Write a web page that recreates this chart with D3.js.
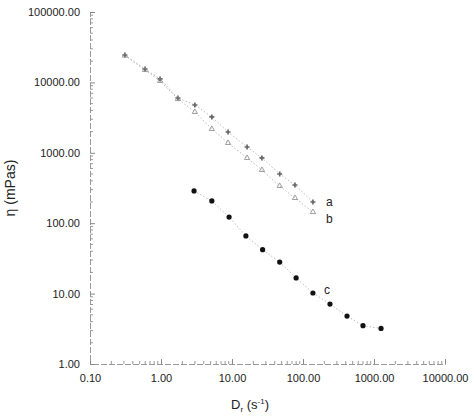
<!DOCTYPE html><html><head><meta charset="utf-8"><script src="https://cdn.jsdelivr.net/npm/d3@7"></script>
<style>body{margin:0;background:#fff}text{font-family:"Liberation Sans",Arial,sans-serif;fill:#222}</style></head><body><svg id="c" width="474" height="416"></svg><script>
const shearRate=[0.31,0.595,0.97,1.73,3.0,5.2,8.8,16.3,26.4,47,77,138];
const etaA=[24500,15500,11200,6000,4780,3230,1975,1210,845,500,349,200];
const etaB=[24000,15000,10500,5800,3800,2180,1380,845,570,338,228,144];
const shearRateC=[2.92,5.2,9.1,15.7,27,47,80,138,240,417,700,1256];
const etaC=[287,207,122,66,42,28,16.7,10.2,7.1,4.8,3.5,3.2];
const xTicks=[0.1,1,10,100,1000,10000];
const yTicks=[1,10,100,1000,10000,100000];
const svg=d3.select("#c");
const x=d3.scaleLog().domain([0.1,10000]).range([90,445]);
const y=d3.scaleLog().domain([1,100000]).range([364,12]);
const ax=svg.append("g").attr("transform","translate(0,364)").call(d3.axisBottom(x).tickValues(xTicks).tickFormat(d3.format(".2f")).tickSize(-5).tickPadding(10));
const ay=svg.append("g").attr("transform","translate(90,0)").call(d3.axisLeft(y).tickValues(yTicks).tickFormat(d3.format(".2f")).tickSize(-5).tickPadding(10));
[ax,ay].forEach(g=>{g.select(".domain").attr("stroke","#999").attr("stroke-dasharray","6,2");g.selectAll("line").attr("stroke","#888");g.selectAll("text").attr("font-size",11).attr("font-family","Liberation Sans").attr("fill","#222");});
// minor ticks
const minors=[];for(let e=-1;e<4;e++)for(let k=2;k<10;k++)minors.push(k*10**e);
ax.selectAll(".mn").data(minors).join("line").attr("x1",d=>x(d)).attr("x2",d=>x(d)).attr("y1",0).attr("y2",-3).attr("stroke","#999");
const yMin=[];for(let e=0;e<5;e++)for(let k=2;k<10;k++)yMin.push(k*10**e);
ay.selectAll(".mn").data(yMin).join("line").attr("y1",d=>y(d)).attr("y2",d=>y(d)).attr("x1",0).attr("x2",3).attr("stroke","#999");
const line=d3.line().x(d=>x(d[0])).y(d=>y(d[1]));
const A=shearRate.map((v,i)=>[v,etaA[i]]),B=shearRate.map((v,i)=>[v,etaB[i]]),C=shearRateC.map((v,i)=>[v,etaC[i]]);
[A,B,C].forEach(s=>svg.append("path").attr("d",line(s)).attr("fill","none").attr("stroke","#aaa").attr("stroke-width",0.8).attr("stroke-dasharray","1.5,2"));
svg.selectAll(".a").data(A).join("path").attr("d",d3.symbol(d3.symbolCross,14)).attr("transform",d=>`translate(${x(d[0])},${y(d[1])})`).attr("fill","#666");
svg.selectAll(".b").data(B).join("path").attr("d",d3.symbol(d3.symbolTriangle,12)).attr("transform",d=>`translate(${x(d[0])},${y(d[1])})`).attr("fill","none").attr("stroke","#888").attr("stroke-width",0.8);
svg.selectAll(".cc").data(C).join("circle").attr("cx",d=>x(d[0])).attr("cy",d=>y(d[1])).attr("r",2.6).attr("fill","#111");
svg.append("text").attr("x",326).attr("y",206).attr("font-size",12).text("a");
svg.append("text").attr("x",326).attr("y",223).attr("font-size",12).text("b");
svg.append("text").attr("x",324).attr("y",294).attr("font-size",12).text("c");
const xl=svg.append("text").attr("x",250).attr("y",409).attr("text-anchor","middle").attr("font-size",13);
xl.append("tspan").text("D");xl.append("tspan").attr("font-size",8).attr("dy",3).text("r");xl.append("tspan").attr("dy",-3).text(" (s");xl.append("tspan").attr("font-size",8).attr("dy",-5).text("-1");xl.append("tspan").attr("dy",5).text(")");
svg.append("text").attr("transform","translate(15,188) rotate(-90)").attr("text-anchor","middle").attr("font-size",14).text("η (mPas)");
</script></body></html>
